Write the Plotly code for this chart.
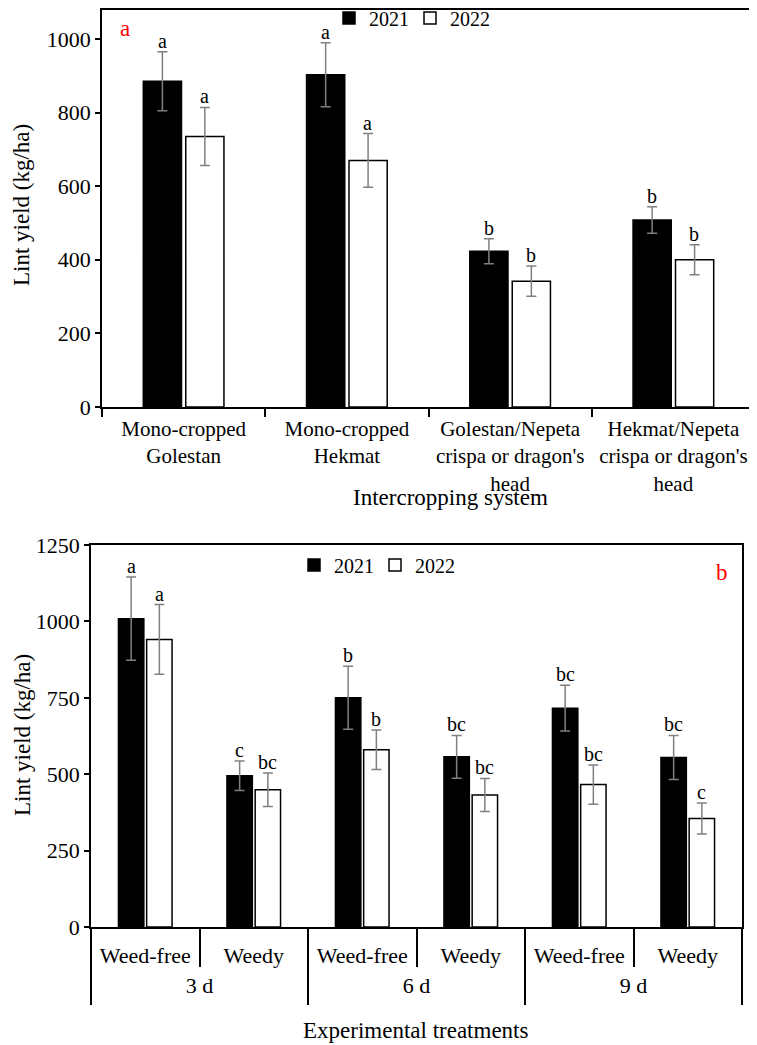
import plotly.graph_objects as go

# panel a: intercropping system
systems = ["Mono-cropped<br>Golestan", "Mono-cropped<br>Hekmat",
           "Golestan/Nepeta<br>crispa or dragon's<br>head",
           "Hekmat/Nepeta<br>crispa or dragon's<br>head"]
sys_2021 = [885, 903, 423, 508]
sys_2021_err = [80, 87, 34, 36]
sys_2022 = [735, 670, 342, 400]
sys_2022_err = [79, 73, 41, 41]
sys_letters_2021 = ["a", "a", "b", "b"]
sys_letters_2022 = ["a", "a", "b", "b"]

# panel b: experimental treatments
periods = ["3 d", "3 d", "6 d", "6 d", "9 d", "9 d"]
weeds = ["Weed-free", "Weedy", "Weed-free", "Weedy", "Weed-free", "Weedy"]
trt_2021 = [1009, 495, 750, 557, 716, 555]
trt_2021_err = [136, 48, 103, 70, 75, 72]
trt_2022 = [941, 449, 580, 432, 466, 355]
trt_2022_err = [114, 55, 65, 54, 64, 51]
trt_letters_2021 = ["a", "c", "b", "bc", "bc", "bc"]
trt_letters_2022 = ["a", "bc", "b", "bc", "bc", "c"]

FONT = "Liberation Serif"
W, H = 757, 1045
OFF = 8  # page margin around the figure
err_col = "#808080"


def px_x(p):
    return min(1.0, max(0.0, (p - OFF) / W))


def px_y(p):
    return min(1.0, max(0.0, 1 - (p - OFF) / H))


fig = go.Figure()

fig.add_trace(go.Bar(x=systems, y=sys_2021, name="2021", marker=dict(color="black", line=dict(color="black", width=1.5)),
                     error_y=dict(type="data", array=sys_2021_err, color=err_col, thickness=1.5, width=5),
                     xaxis="x", yaxis="y", legend="legend"))
fig.add_trace(go.Bar(x=systems, y=sys_2022, name="2022", marker=dict(color="white", line=dict(color="black", width=1.5)),
                     error_y=dict(type="data", array=sys_2022_err, color=err_col, thickness=1.5, width=5),
                     xaxis="x", yaxis="y", legend="legend"))

trt_x = [periods, weeds]
fig.add_trace(go.Bar(x=trt_x, y=trt_2021, name="2021", marker=dict(color="black", line=dict(color="black", width=1.5)),
                     error_y=dict(type="data", array=trt_2021_err, color=err_col, thickness=1.5, width=5),
                     xaxis="x2", yaxis="y2", legend="legend2"))
fig.add_trace(go.Bar(x=trt_x, y=trt_2022, name="2022", marker=dict(color="white", line=dict(color="black", width=1.5)),
                     error_y=dict(type="data", array=trt_2022_err, color=err_col, thickness=1.5, width=5),
                     xaxis="x2", yaxis="y2", legend="legend2"))

# two-level category labels for panel b, drawn on overlay axes
trt_keys = [p + " " + w for p, w in zip(periods, weeds)]
period_names = list(dict.fromkeys(periods))
# empty helper traces so the overlay axes get drawn
fig.add_trace(go.Scatter(x=trt_keys, y=[0] * len(trt_keys), mode="markers", marker=dict(opacity=0),
                         xaxis="x3", yaxis="y2", showlegend=False, hoverinfo="skip"))
fig.add_trace(go.Scatter(x=period_names, y=[0] * len(period_names), mode="markers", marker=dict(opacity=0),
                         xaxis="x4", yaxis="y2", showlegend=False, hoverinfo="skip"))

annotations = []
letter_font = dict(family=FONT, size=20, color="black")
# significance letters above the error bars
for i in range(len(systems)):
    annotations.append(dict(x=i, y=sys_2021[i] + sys_2021_err[i], xref="x", yref="y", text=sys_letters_2021[i],
                            showarrow=False, yanchor="bottom", xshift=-21, yshift=-2, font=letter_font))
    annotations.append(dict(x=i, y=sys_2022[i] + sys_2022_err[i], xref="x", yref="y", text=sys_letters_2022[i],
                            showarrow=False, yanchor="bottom", xshift=21, yshift=-2, font=letter_font))
for i in range(len(weeds)):
    annotations.append(dict(x=i, y=trt_2021[i] + trt_2021_err[i], xref="x2", yref="y2", text=trt_letters_2021[i],
                            showarrow=False, yanchor="bottom", xshift=-14, yshift=-2, font=letter_font))
    annotations.append(dict(x=i, y=trt_2022[i] + trt_2022_err[i], xref="x2", yref="y2", text=trt_letters_2022[i],
                            showarrow=False, yanchor="bottom", xshift=14, yshift=-2, font=letter_font))

title_font = dict(family=FONT, size=23, color="black")
paper_text = dict(xref="paper", yref="paper", showarrow=False, xanchor="center", yanchor="middle")
# axis titles and panel labels
annotations += [
    dict(x=px_x(22), y=px_y(205), text="Lint yield (kg/ha)", textangle=-90, font=title_font, **paper_text),
    dict(x=px_x(450), y=px_y(497), text="Intercropping system", font=title_font, **paper_text),
    dict(x=px_x(22), y=px_y(735), text="Lint yield (kg/ha)", textangle=-90, font=title_font, **paper_text),
    dict(x=px_x(415), y=px_y(1030), text="Experimental treatments", font=title_font, **paper_text),
    dict(x=px_x(125), y=px_y(29), text="a", font=dict(family=FONT, size=23, color="red"), **paper_text),
    dict(x=px_x(722), y=px_y(572), text="b", font=dict(family=FONT, size=23, color="red"), **paper_text),
]

tick_font = dict(family=FONT, size=22, color="black")
axis_common = dict(showline=True, linecolor="black", linewidth=1.5, mirror=True, showgrid=False,
                   zeroline=False, automargin=False, tickfont=tick_font)
overlay_common = dict(anchor="y2", overlaying="x2", type="category", categoryorder="array",
                      ticks="outside", tickson="boundaries", tickcolor="black", tickwidth=1.5,
                      tickangle=0, showline=False, showgrid=False, zeroline=False,
                      automargin=False, tickfont=tick_font)
b_domain = [px_x(91), px_x(742)]

fig.update_layout(
    template="none",
    width=W, height=H,
    margin=dict(l=0, r=0, t=0, b=0, autoexpand=False),
    paper_bgcolor="white", plot_bgcolor="white",
    font=dict(family=FONT, size=20, color="black"),
    barmode="group", bargap=0.48, bargroupgap=0.1,
    xaxis=dict(domain=[px_x(102), px_x(755)], anchor="y", ticks="outside", tickson="boundaries",
               ticklen=8, tickcolor="black", tickwidth=1.5, tickangle=0, ticklabelstandoff=2,
               **dict(axis_common, tickfont=dict(family=FONT, size=21, color="black"))),
    yaxis=dict(domain=[px_y(407), px_y(9.5)], anchor="x", range=[0, 1080], tickvals=[0, 200, 400, 600, 800, 1000],
               ticks="outside", ticklen=5, tickcolor="black", tickwidth=1.5, **axis_common),
    xaxis2=dict(domain=b_domain, anchor="y2", type="multicategory", ticks="", showticklabels=False,
                showdividers=False, **axis_common),
    xaxis3=dict(domain=b_domain, categoryarray=trt_keys, range=[-0.5, len(trt_keys) - 0.5],
                tickvals=trt_keys, ticktext=weeds, ticklen=39, ticklabelstandoff=13, **overlay_common),
    xaxis4=dict(domain=b_domain, categoryarray=period_names, range=[-0.5, len(period_names) - 0.5],
                ticklen=77, ticklabelstandoff=43, **overlay_common),
    yaxis2=dict(domain=[px_y(927), px_y(545)], anchor="x2", range=[0, 1250], dtick=250, ticks="outside",
                ticklen=5, tickcolor="black", tickwidth=1.5, **axis_common),
    legend=dict(orientation="h", x=px_x(329), y=px_y(18), xanchor="left", yanchor="middle",
                bgcolor="rgba(0,0,0,0)", font=dict(family=FONT, size=20, color="black"),
                entrywidth=36),
    legend2=dict(orientation="h", x=px_x(294), y=px_y(565), xanchor="left", yanchor="middle",
                 bgcolor="rgba(0,0,0,0)", font=dict(family=FONT, size=20, color="black"),
                 entrywidth=36),
    annotations=annotations,
)

fig.write_html("out.html")
